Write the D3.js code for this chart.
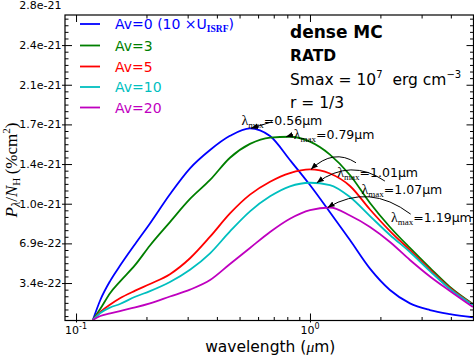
<!DOCTYPE html>
<html><head><meta charset="utf-8">
<script src="https://cdn.jsdelivr.net/npm/d3@7"></script>
<style>body{margin:0;background:#fff} svg{display:block}</style>
</head><body>
<svg id="chart" width="474" height="356"></svg>
<script>
// ---------------- data (P_lambda/N_H in units of 1e-21 %cm^2) ----------------
const wavelengths = [0.118,0.127,0.140,0.154,0.179,0.207,0.252,0.307,0.374,0.455,0.554,0.675,0.821,1.0,1.217,1.482,1.805,2.197,2.675,3.257,3.965,4.97];
const av0  = [0.023,0.197,0.363,0.493,0.683,0.861,1.114,1.339,1.498,1.621,1.686,1.619,1.411,1.194,0.958,0.717,0.469,0.284,0.168,0.110,0.075,0.047];
const av3  = [0.023,0.120,0.258,0.356,0.501,0.670,0.873,1.073,1.238,1.431,1.551,1.606,1.613,1.570,1.458,1.281,1.038,0.830,0.648,0.475,0.310,0.162];
const av5  = [0.023,0.093,0.158,0.212,0.278,0.336,0.421,0.559,0.746,0.948,1.111,1.223,1.298,1.330,1.294,1.186,0.982,0.795,0.630,0.461,0.301,0.158];
const av10 = [0.023,0.084,0.132,0.162,0.225,0.274,0.353,0.459,0.602,0.792,0.966,1.096,1.183,1.214,1.194,1.090,0.925,0.761,0.613,0.448,0.292,0.154];
const av20 = [0.023,0.058,0.080,0.101,0.132,0.167,0.227,0.287,0.370,0.509,0.648,0.787,0.902,0.977,0.999,0.930,0.830,0.700,0.544,0.401,0.275,0.136];
const seriesNames = ["Av=0","Av=3","Av=5","Av=10","Av=20"];
const seriesValues = [av0, av3, av5, av10, av20];
const seriesColors = ["#0000ff","#007f00","#ff0000","#00bfbf","#bf00bf"];
const peakLambdas = [0.56, 0.79, 1.01, 1.07, 1.19];
const peakLabels = ["=0.56\u03bcm","=0.79\u03bcm","=1.01\u03bcm","=1.07\u03bcm","=1.19\u03bcm"];
const yTickValues = [0.344,0.688,1.032,1.376,1.720,2.064,2.408,2.752];
const yTickLabels = ["3.4e-22","6.9e-22","1.0e-21","1.4e-21","1.7e-21","2.1e-21","2.4e-21","2.8e-21"];
const xMajorTicks = [0.1, 1];
const xMajorExp = ["-1","0"];
const xMinorTicks = [0.2,0.3,0.4,0.5,0.6,0.7,0.8,0.9,2,3,4];

// ---------------- layout ----------------
const L = 65, R = 473.5, T = 15, B = 320.5;
const svg = d3.select("#chart");
const x = d3.scaleLog().domain([0.0897, 5.0]).range([L, R]);
const y = d3.scaleLinear().domain([0.019, 2.669]).range([B, T]);
const sans = "DejaVu Sans, sans-serif";
const serif = "Liberation Serif, DejaVu Serif, serif";

// clip
svg.append("defs").append("clipPath").attr("id","clip")
  .append("rect").attr("x",L).attr("y",T).attr("width",R-L).attr("height",B-T);
svg.select("defs").append("marker").attr("id","arr")
  .attr("viewBox","0 0 10 10").attr("refX",10).attr("refY",5)
  .attr("markerWidth",7).attr("markerHeight",7).attr("orient","auto-start-reverse")
  .attr("markerUnits","userSpaceOnUse")
  .append("path").attr("d","M0,1 L10,5 L0,9 z").attr("fill","#000");

// curves
const line = d3.line().x((d,i)=>x(wavelengths[i])).y(d=>y(d)).curve(d3.curveMonotoneX);
const gC = svg.append("g").attr("clip-path","url(#clip)");
seriesValues.forEach((vals,k)=>{
  gC.append("path").attr("d", line(vals)).attr("fill","none")
    .attr("stroke", seriesColors[k]).attr("stroke-width",1.8).attr("stroke-linejoin","round");
});

// axes ticks
function clean(g){ g.select(".domain").remove(); g.selectAll("line").attr("stroke","#000"); g.selectAll("text").remove(); }
const yMinor = d3.range(1,47).filter(k=>k%6!==0).map(k=>k*0.344/6).filter(v=>v>y.domain()[0] && v<y.domain()[1]);
const yMaj = yTickValues.filter(v=>v<y.domain()[1]);
svg.append("g").attr("transform",`translate(0,${B})`).call(d3.axisBottom(x).tickValues(xMajorTicks).tickSize(-7).tickFormat("")).call(clean);
svg.append("g").attr("transform",`translate(0,${B})`).call(d3.axisBottom(x).tickValues(xMajorTicks).tickSize(2).tickFormat("")).call(clean);
svg.append("g").attr("transform",`translate(0,${B})`).call(d3.axisBottom(x).tickValues(xMinorTicks).tickSize(-3.5).tickFormat("")).call(clean);
svg.append("g").attr("transform",`translate(0,${T})`).call(d3.axisTop(x).tickValues(xMajorTicks).tickSize(-7).tickFormat("")).call(clean);
svg.append("g").attr("transform",`translate(0,${T})`).call(d3.axisTop(x).tickValues(xMinorTicks).tickSize(-3.5).tickFormat("")).call(clean);
svg.append("g").attr("transform",`translate(${L},0)`).call(d3.axisLeft(y).tickValues(yMaj).tickSize(-7).tickFormat("")).call(clean);
svg.append("g").attr("transform",`translate(${L},0)`).call(d3.axisLeft(y).tickValues(yMaj).tickSize(3).tickFormat("")).call(clean);
svg.append("g").attr("transform",`translate(${L},0)`).call(d3.axisLeft(y).tickValues(yMinor).tickSize(-3.5).tickFormat("")).call(clean);
svg.append("g").attr("transform",`translate(${R},0)`).call(d3.axisRight(y).tickValues(yMaj).tickSize(-7).tickFormat("")).call(clean);
svg.append("g").attr("transform",`translate(${R},0)`).call(d3.axisRight(y).tickValues(yMinor).tickSize(-3.5).tickFormat("")).call(clean);
svg.selectAll("g.tick line").attr("stroke-width",1);

// frame
svg.append("rect").attr("x",L).attr("y",T).attr("width",R-L).attr("height",B-T)
  .attr("fill","none").attr("stroke","#000").attr("stroke-width",1.2);

// y tick labels
yTickValues.forEach((v,i)=>{
  svg.append("text").attr("x",L-3.5).attr("y",y(v)).attr("dy","0.36em")
    .attr("text-anchor","end").attr("font-family",sans).attr("font-size",11).attr("fill","#000")
    .text(yTickLabels[i]);
});
// x tick labels
xMajorTicks.forEach((v,i)=>{
  const t = svg.append("text").attr("x",x(v)).attr("y",B+13).attr("text-anchor","middle")
    .attr("font-family",sans).attr("font-size",11).attr("fill","#000");
  t.append("tspan").text("10");
  t.append("tspan").attr("dy",-5).attr("font-size",8).text(xMajorExp[i]);
});

// axis titles
const xt = svg.append("text").attr("x",(L+R)/2+1).attr("y",351.5).attr("text-anchor","middle")
  .attr("font-family",sans).attr("font-size",15.5).attr("fill","#000");
xt.append("tspan").text("wavelength (");
xt.append("tspan").attr("font-family",serif).attr("font-style","italic").text("\u03bc");
xt.append("tspan").text("m)");

const yt = svg.append("text").attr("transform",`translate(17,170) rotate(-90)`).attr("text-anchor","middle")
  .attr("font-family",serif).attr("font-size",17).attr("fill","#000");
yt.append("tspan").attr("font-style","italic").text("P");
yt.append("tspan").attr("font-style","italic").attr("font-size",12).attr("dy",3).text("\u03bb");
yt.append("tspan").attr("dy",-3).text("/");
yt.append("tspan").attr("font-style","italic").text("N");
yt.append("tspan").attr("font-size",11).attr("dy",3).text("H");
yt.append("tspan").attr("dy",-3).text("\u2009(%cm");
yt.append("tspan").attr("font-size",11).attr("dy",-7).text("2");
yt.append("tspan").attr("dy",7).text(")");

// legend
const legBase = [29, 50.5, 71.5, 92, 112.5];
seriesNames.forEach((n,k)=>{
  svg.append("line").attr("x1",80).attr("x2",100).attr("y1",legBase[k]-5).attr("y2",legBase[k]-5)
    .attr("stroke",seriesColors[k]).attr("stroke-width",1.8);
  const t = svg.append("text").attr("x",115).attr("y",legBase[k]).attr("font-family",sans)
    .attr("font-size",14).attr("fill",seriesColors[k]);
  t.append("tspan").text(n);
  if(k===0){
    t.append("tspan").text(" (10 \u00d7U");
    t.append("tspan").attr("font-family",serif).attr("font-size",9.5).attr("font-weight","bold").attr("dy",3).text("ISRF");
    t.append("tspan").attr("dy",-3).text(")");
  }
});

// info text
const info = svg.append("g").attr("font-family",sans).attr("fill","#000");
info.append("text").attr("x",290).attr("y",38).attr("font-size",17).attr("font-weight","bold").text("dense MC");
info.append("text").attr("x",290).attr("y",61).attr("font-size",15.5).attr("font-weight","bold").text("RATD");
const sm = info.append("text").attr("x",290).attr("y",85).attr("font-size",15.5);
sm.append("tspan").text("Smax = 10");
sm.append("tspan").attr("font-size",10).attr("dy",-7).text("7");
sm.append("tspan").attr("dy",7).text("\u00a0 erg cm");
sm.append("tspan").attr("font-size",10).attr("dy",-7).text("\u22123");
info.append("text").attr("x",290).attr("y",108).attr("font-size",15.5).text("r = 1/3");

// peak annotations (layout offsets in px relative to the peak)
const arrowTail = [[21,-6.5],[7,-2],[45,-6.6],[68,-1.7],[83,6.6]];
const arrowBend = [0,0,-9,-12,-14];
const textOff = [[-9.5,-3],[7.7,2.5],[26.3,7.2],[44.7,10.8],[63.4,14.8]];
peakLambdas.forEach((lam,k)=>{
  const hx = x(lam), hy = y(d3.max(seriesValues[k]));
  const tx = hx+arrowTail[k][0], ty = hy+arrowTail[k][1];
  const mx = (hx+tx)/2, my = (hy+ty)/2 + arrowBend[k]*2;
  const t = svg.append("text").attr("x",hx+textOff[k][0]).attr("y",hy+textOff[k][1]).attr("fill","#000");
  t.append("tspan").attr("font-family",serif).attr("font-size",14).text("\u03bb");
  t.append("tspan").attr("font-family",serif).attr("font-size",9).attr("dy",3).text("max");
  t.append("tspan").attr("font-family",sans).attr("font-size",12.5).attr("dy",-3).text(peakLabels[k]);
  svg.append("path").attr("d", arrowBend[k]===0 ? `M${tx},${ty}L${hx},${hy}` : `M${tx},${ty}Q${mx},${my} ${hx},${hy}`)
    .attr("fill","none").attr("stroke","#000").attr("stroke-width",1).attr("marker-end","url(#arr)");
});
</script>
</body></html>
